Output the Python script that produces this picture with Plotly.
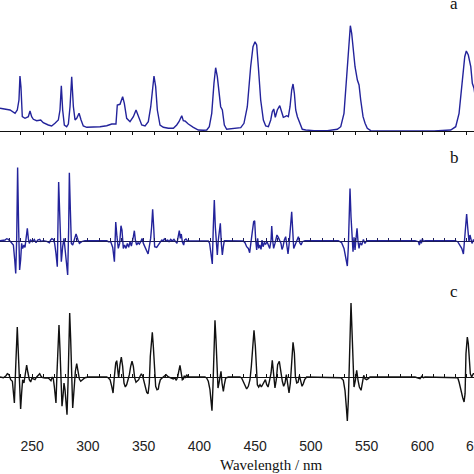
import plotly.graph_objects as go

# ---------------- data ----------------
# Panel a: absorption-like spectrum (arbitrary intensity)
wl_a = [221.2, 230.2, 234.7, 236.7, 238.2, 239.1, 240.0, 241.2, 243.6, 246.6, 248.1, 249.6,
        251.1, 254.1, 257.7, 260.0, 264.5, 267.5, 270.5, 273.5, 275.0, 276.2, 277.4, 278.9,
        281.0, 282.5, 284.0, 285.5, 287.0, 288.5, 290.0, 292.1, 293.9, 295.9, 299.0, 304.9,
        310.9, 316.9, 321.4, 325.2, 326.4, 328.8, 331.2, 332.7, 334.8, 337.8, 340.8, 343.2,
        345.2, 348.3, 351.3, 354.2, 356.4, 358.2, 359.3, 360.8, 362.3, 364.7, 367.7, 372.2,
        376.7, 379.7, 381.7, 384.2, 385.6, 387.1, 390.1, 394.6, 399.1, 403.5, 406.6, 408.9,
        411.1, 413.1, 414.6, 416.1, 417.9, 419.1, 420.6, 422.4, 424.5, 430.5, 437.1, 440.0,
        443.0, 446.0, 448.1, 449.9, 451.4, 452.9, 455.0, 457.4, 459.5, 461.9, 464.0, 465.4,
        466.7, 468.1, 469.9, 472.1, 473.8, 475.3, 476.8, 478.3, 479.8, 481.3, 482.8, 484.0,
        485.2, 486.4, 487.9, 489.4, 490.9, 492.3, 495.4, 502.8, 514.8, 523.7, 526.8, 529.7,
        532.1, 534.2, 535.4, 536.6, 538.1, 539.6, 541.7, 543.2, 544.7, 546.8, 548.6, 550.6,
        553.7, 580.6, 610.5, 625.4, 629.9, 632.9, 635.8, 638.0, 639.4, 641.2, 643.4, 644.8,
        646.3, 648.0, 650.0]
int_a = [22.7, 21.0, 17.7, 21.0, 31.0, 55.0, 44.0, 14.3, 12.7, 14.3, 20.0, 14.3,
         11.7, 10.3, 11.0, 8.3, 6.0, 5.0, 7.7, 11.0, 21.0, 45.3, 21.0, 6.0,
         4.3, 7.0, 24.3, 54.3, 24.3, 11.0, 12.7, 17.7, 11.0, 5.0, 3.7, 3.7,
         4.3, 5.3, 7.0, 7.0, 26.0, 26.7, 34.3, 27.7, 12.7, 9.3, 14.3, 21.0,
         14.3, 6.0, 5.0, 9.3, 24.3, 44.3, 55.0, 44.3, 21.0, 6.0, 3.7, 2.7,
         2.7, 6.0, 9.3, 15.3, 10.3, 10.0, 7.0, 3.7, 1.0, 0.7, 1.0, 4.3,
         17.7, 47.7, 63.3, 54.3, 34.3, 24.3, 21.0, 6.0, 1.7, 2.3, 3.3, 7.7,
         24.3, 64.3, 84.3, 89.3, 86.0, 64.3, 31.0, 11.0, 5.0, 4.3, 11.0, 19.3,
         22.0, 13.7, 21.0, 25.3, 19.3, 13.7, 14.3, 15.3, 14.3, 24.3, 41.0, 47.0,
         37.7, 21.0, 14.3, 9.3, 4.3, 1.7, 1.0, 0.3, 0.3, 1.7, 4.3, 17.7,
         54.3, 94.3, 105.3, 97.7, 77.7, 64.3, 51.0, 46.0, 31.0, 14.3, 7.7, 2.7,
         0.3, 0.0, 0.0, 1.0, 4.3, 17.7, 47.7, 74.3, 80.0, 76.0, 64.3, 47.7,
         42.7, 30.0, 15.0]

# Panel b: derivative spectrum (blue)
wl_b = [221.2, 225.7, 227.2, 228.7, 230.2, 231.7, 233.2, 234.4, 235.3, 236.2, 237.0, 237.9,
        238.8, 239.7, 240.6, 241.5, 242.7, 243.6, 244.5, 245.7, 246.6, 247.5, 248.7, 250.2,
        252.0, 253.5, 255.0, 256.8, 258.0, 260.1, 263.1, 265.5, 266.6, 267.8, 269.0, 270.2,
        271.4, 272.6, 273.8, 275.0, 276.2, 277.4, 278.6, 279.8, 281.0, 281.9, 282.8, 283.4,
        284.3, 285.2, 286.4, 287.6, 289.4, 291.2, 292.4, 294.5, 297.4, 316.9, 318.4, 320.5,
        322.3, 323.8, 325.0, 326.1, 327.3, 328.5, 329.7, 330.6, 331.8, 333.0, 334.2, 335.4,
        336.6, 337.8, 339.0, 340.8, 341.7, 342.6, 343.8, 345.0, 346.2, 347.4, 348.6, 349.8,
        351.6, 352.8, 354.0, 355.1, 356.3, 357.2, 358.1, 359.0, 359.9, 361.7, 363.2, 364.7,
        366.2, 367.7, 368.6, 370.1, 371.6, 372.8, 374.3, 375.7, 377.2, 378.7, 379.9, 381.1,
        382.0, 382.9, 383.8, 384.7, 385.9, 386.8, 388.0, 389.2, 406.5, 408.0, 409.2, 410.4,
        411.6, 412.5, 413.4, 414.3, 415.2, 416.1, 417.0, 417.9, 418.8, 419.7, 420.6, 421.5,
        422.4, 439.4, 440.9, 442.4, 443.9, 445.1, 446.3, 447.5, 448.7, 449.6, 450.5, 451.4,
        452.3, 453.2, 454.1, 455.3, 456.2, 457.1, 458.3, 459.5, 460.7, 461.9, 463.1, 464.3,
        464.9, 465.7, 466.6, 467.8, 468.7, 469.6, 470.8, 472.0, 473.2, 474.1, 475.0, 476.2,
        477.4, 478.6, 479.5, 480.4, 481.6, 482.8, 483.7, 484.6, 485.5, 486.4, 487.6, 488.8,
        490.0, 491.2, 492.4, 494.7, 524.6, 527.6, 529.7, 531.2, 532.7, 533.6, 534.2, 535.1,
        536.0, 536.9, 537.8, 538.7, 539.6, 540.5, 541.4, 542.3, 543.2, 544.1, 545.6, 547.1,
        548.5, 550.0, 593.4, 596.4, 597.3, 598.2, 599.1, 600.0, 600.9, 602.4, 629.3, 631.7,
        633.8, 635.3, 636.8, 637.9, 638.8, 639.7, 640.6, 641.8, 642.7, 643.6, 644.5, 645.7,
        646.6]
d_b = [0.0, 0.7, 2.0, 1.3, -0.3, -2.0, -4.3, -19.3, -32.7, 4.0, 73.3, 14.0,
       -29.3, -19.3, -2.7, -7.7, -4.3, -6.7, 0.7, 12.3, 2.3, -2.7, 0.7, -1.0,
       1.3, -2.0, 0.7, 1.3, -0.7, 0.0, -0.7, -2.0, 0.7, 2.0, 1.3, -2.7,
       -12.7, -26.0, 58.7, 14.0, -21.0, -6.0, 2.3, -11.0, -22.7, -34.3, 14.0, 68.0,
       30.7, -2.7, -4.3, 0.7, 6.7, 0.7, -2.7, -1.0, 0.0, 0.0, -1.0, -1.0,
       -6.7, -21.0, 18.7, 4.0, -7.7, -2.7, 15.0, 10.7, -7.7, -4.3, -7.7, -2.7,
       -6.7, -1.0, -5.3, 4.0, 10.0, 0.7, -4.3, -2.0, -3.3, -1.0, 2.3, -2.7,
       -6.7, -9.3, -13.3, -6.0, 2.3, 14.0, 31.3, 14.0, -6.0, -6.7, -4.3, -1.0,
       0.7, 0.0, 1.7, 0.0, 0.7, -1.0, 1.3, -0.3, 1.3, -1.0, -2.7, 4.7,
       10.0, 2.3, 6.7, -1.0, -4.3, 0.7, 1.7, 0.0, 0.0, -0.3, -2.7, -16.0,
       -23.3, 14.0, 40.7, 14.0, -7.7, -14.3, 0.7, 9.0, 17.3, -2.7, -14.3, -6.0,
       0.0, -0.3, -2.0, -6.0, -7.7, -12.0, 0.7, 9.0, 19.0, 20.0, 0.7, -9.3,
       2.3, -7.7, -4.3, -8.7, 0.7, -6.0, -2.0, -3.3, -1.0, -4.3, -7.7, 0.7,
       14.7, 0.7, -7.7, -2.7, 0.7, 5.7, 3.3, 0.7, -2.7, -8.7, -6.0, 0.7,
       4.0, -6.0, -13.3, -4.3, 14.0, 29.0, 10.7, -7.7, -5.3, -2.7, 0.7, 4.0,
       -2.0, -4.3, -1.0, 0.0, 0.0, -2.0, -7.7, -16.0, -25.3, -6.0, 20.7, 52.3,
       24.0, -2.7, -11.0, 3.3, -9.3, 2.3, 12.3, -1.0, -7.7, -2.0, -4.3, 1.3,
       -2.7, 0.0, 0.0, -1.0, -4.3, 0.7, -2.7, 2.0, -0.7, 0.0, 0.0, -1.0,
       -4.3, -7.7, -13.3, 0.7, 20.7, 26.7, 14.0, -1.0, 5.7, -1.0, -2.7, 0.7,
       0.0]

# Panel c: derivative spectrum (black)
wl_c = [221.2, 224.2, 226.6, 227.8, 229.3, 230.8, 232.3, 233.2, 234.1, 235.3, 236.7, 237.9,
        238.8, 239.7, 240.6, 241.5, 242.7, 243.9, 245.1, 246.3, 247.5, 248.7, 249.9, 251.1,
        252.6, 254.1, 255.6, 256.8, 258.0, 259.5, 261.6, 263.7, 265.5, 266.9, 268.1, 269.0,
        269.9, 270.8, 271.4, 272.3, 273.2, 274.1, 275.0, 275.9, 276.8, 277.7, 278.6, 279.5,
        280.4, 281.3, 282.2, 283.1, 283.7, 284.6, 285.5, 286.4, 287.6, 288.8, 290.0, 291.2,
        292.4, 293.6, 295.3, 297.4, 300.4, 316.9, 318.4, 319.9, 321.4, 322.6, 323.8, 325.0,
        325.9, 326.7, 327.6, 328.8, 330.0, 331.2, 332.4, 333.6, 334.8, 336.0, 337.2, 338.4,
        339.6, 340.8, 342.0, 343.2, 344.4, 345.6, 346.8, 348.0, 349.2, 350.4, 351.6, 352.8,
        354.0, 355.1, 356.0, 356.9, 357.8, 358.7, 359.9, 360.8, 362.0, 363.2, 363.8, 365.0,
        366.8, 368.6, 370.1, 372.2, 373.7, 375.2, 376.6, 378.1, 379.3, 380.5, 381.7, 382.6,
        383.5, 384.7, 385.6, 386.5, 387.4, 388.6, 389.8, 405.0, 406.5, 408.0, 409.5, 410.4,
        411.3, 412.2, 413.1, 414.0, 414.9, 415.8, 416.7, 417.6, 418.5, 419.4, 420.3, 421.5,
        422.4, 423.6, 426.0, 436.4, 437.9, 439.4, 440.9, 442.4, 443.9, 445.4, 446.6, 447.8,
        449.0, 450.2, 451.1, 452.0, 453.2, 454.4, 455.6, 456.8, 458.0, 459.2, 460.4, 461.6,
        462.8, 464.3, 465.4, 466.6, 467.8, 469.0, 470.2, 471.7, 473.2, 474.4, 475.6, 476.8,
        478.0, 479.2, 480.4, 481.6, 482.8, 484.0, 485.2, 486.1, 487.3, 488.5, 489.7, 490.9,
        492.1, 493.2, 494.4, 496.2, 524.6, 527.0, 529.1, 530.6, 531.8, 532.7, 533.6, 534.5,
        535.4, 536.0, 536.9, 537.8, 538.7, 539.9, 541.1, 542.3, 543.5, 545.0, 546.2, 547.4,
        548.5, 550.0, 551.5, 553.0, 593.4, 596.4, 597.9, 599.4, 600.9, 602.4, 629.3, 631.7,
        632.9, 634.4, 636.2, 637.4, 638.3, 639.1, 640.3, 641.2, 642.1, 643.0, 644.2, 645.7,
        646.6]
d_c = [0.0, -0.7, 1.3, 3.3, 2.3, -2.7, -4.3, -14.3, -26.0, 10.7, 50.0, 17.3,
       -16.0, -32.0, -16.0, -2.7, -6.0, 4.0, 12.0, 4.0, -2.7, -5.0, -1.0, -2.0,
       -2.7, 0.0, 2.3, 3.3, 0.7, -0.7, -1.0, -0.7, -2.0, -3.7, 0.0, -1.7,
       -9.3, -19.3, -26.0, 4.0, 37.3, 52.0, 27.3, -9.3, -29.3, -19.3, -6.0, -12.7,
       -22.7, -37.7, -6.0, 44.0, 64.0, 37.3, -6.0, -31.0, -12.7, 5.7, 13.3, 7.3,
       -2.0, -4.3, -2.7, -0.7, 0.0, 0.0, -1.0, -2.7, -9.3, -16.0, 0.7, 14.0,
       16.3, 7.3, -1.0, 12.3, 20.0, 10.7, -6.0, -10.0, -7.7, -2.7, 2.3, 10.7,
       15.7, 10.7, -1.0, -5.3, -4.3, -2.7, 0.7, 3.3, 0.7, -4.3, -10.0, -15.3,
       -16.7, -6.0, 20.7, 37.3, 44.7, 30.7, 7.3, -9.3, -12.7, -12.0, -7.7, -2.7,
       -0.7, 0.7, 2.3, 0.0, -0.7, -1.3, -2.0, -1.0, -3.3, 0.0, 7.3, 11.7,
       5.7, -2.7, -2.0, 1.3, -1.0, 2.3, 0.0, 0.0, -1.0, -4.3, -12.7, -22.7,
       -33.7, -9.3, 37.3, 56.7, 37.3, 7.3, -11.0, -6.0, 0.7, 5.7, -6.0, -14.3,
       -7.7, -1.0, 0.0, 0.0, -1.0, -4.3, -8.7, -12.0, -9.3, -2.7, 10.7, 30.7,
       46.7, 30.7, 4.0, -7.7, -10.0, -7.7, -10.0, -7.7, -6.0, -2.7, -7.7, -10.0,
       -4.3, 4.0, 16.7, 4.0, -11.0, -2.7, 12.3, 15.7, 4.0, -4.3, -9.3, -6.0,
       2.3, -6.0, -16.0, -6.0, 14.0, 34.7, 24.0, 0.7, -6.0, -5.3, 1.3, -6.0,
       -9.3, -6.7, -2.7, 0.0, 0.0, -0.7, -3.3, -13.3, -30.0, -44.0, -23.3, 30.0,
       50.0, 74.0, 36.7, 0.0, -10.0, -3.3, 6.7, -3.3, -10.0, -13.3, -3.3, 1.7,
       -1.7, -2.7, -1.7, 0.0, 0.0, -0.7, -1.7, 0.7, -0.7, 0.0, 0.0, -0.7,
       -5.0, -13.3, -20.7, -25.0, -16.7, 23.3, 40.0, 33.3, 16.7, 3.3, 0.0, 3.3,
       3.3]

tick_labels = [250, 300, 350, 400, 450, 500, 550, 600, 650]
panel_labels = ["a", "b", "c"]
x_title = "Wavelength / nm"

# ---------------- figure ----------------
W = H = 474
XR = [221.2, 646.3]
BLUE = "#23239b"
TICKFONT = dict(family="Liberation Sans, Arial", size=14, color="#222222")


def py(px):
    return 1 - px / H


def frac(v):
    return (v - XR[0]) / (XR[1] - XR[0])


fig = go.Figure()
fig.add_trace(go.Scatter(x=wl_a, y=int_a, mode="lines", xaxis="x", yaxis="y",
                         line=dict(color=BLUE, width=1.4), hoverinfo="skip"))
fig.add_trace(go.Scatter(x=wl_b, y=d_b, mode="lines", xaxis="x2", yaxis="y2",
                         line=dict(color=BLUE, width=1.4), hoverinfo="skip"))
fig.add_trace(go.Scatter(x=wl_c, y=d_c, mode="lines", xaxis="x3", yaxis="y3",
                         line=dict(color="#111111", width=1.4), hoverinfo="skip"))

common_x = dict(range=XR, showgrid=False, zeroline=False, showline=True, linewidth=1.2)

fig.update_layout(
    width=W, height=H,
    margin=dict(l=0, r=0, t=0, b=0),
    paper_bgcolor="white", plot_bgcolor="rgba(0,0,0,0)",
    showlegend=False,
    xaxis=dict(**common_x, anchor="y", linecolor="#111111", ticks="outside", ticklen=3,
               tickcolor="#111111", tick0=0, dtick=20, showticklabels=False),
    yaxis=dict(domain=[py(131), 1], range=[0, 131], visible=False),
    xaxis2=dict(**common_x, anchor="free", position=py(240.7), linecolor="#1c1c5c",
                ticks="inside", ticklen=3, tickcolor="#1c1c5c", tick0=0, dtick=10,
                showticklabels=False),
    yaxis2=dict(domain=[py(290), py(150)], range=[-49.3, 90.7], visible=False),
    xaxis3=dict(**common_x, anchor="free", position=py(377), linecolor="#111111",
                ticks="inside", ticklen=3, tickcolor="#111111",
                tickmode="array", tickvals=tick_labels,
                ticktext=[str(t) for t in tick_labels],
                minor=dict(dtick=10, tick0=0, ticks="inside", ticklen=3, tickcolor="#111111"),
                showticklabels=True, ticklabelstandoff=56, tickfont=TICKFONT),
    yaxis3=dict(domain=[py(430), py(290)], range=[-53, 87], visible=False),
)

# tick labels lying past the cropped right edge (partly visible, as in the original)
for t in tick_labels:
    if t > XR[1]:
        fig.add_annotation(text=str(t), xref="paper", yref="paper", x=frac(t), y=py(446),
                           xanchor="center", yanchor="middle", showarrow=False,
                           font=TICKFONT)

label_y = [3, 157, 291]
for lab, yy in zip(panel_labels, label_y):
    fig.add_annotation(text=lab, xref="paper", yref="paper", x=454 / W, y=py(yy),
                       xanchor="center", yanchor="middle", showarrow=False,
                       font=dict(family="Liberation Serif, Times New Roman", size=17,
                                 color="#111111"))

fig.add_annotation(text=x_title, xref="paper", yref="paper", x=271 / W, y=py(465),
                   xanchor="center", yanchor="middle", showarrow=False,
                   font=dict(family="Liberation Serif, Times New Roman", size=15,
                             color="#111111"))

fig.write_html("out.html")
